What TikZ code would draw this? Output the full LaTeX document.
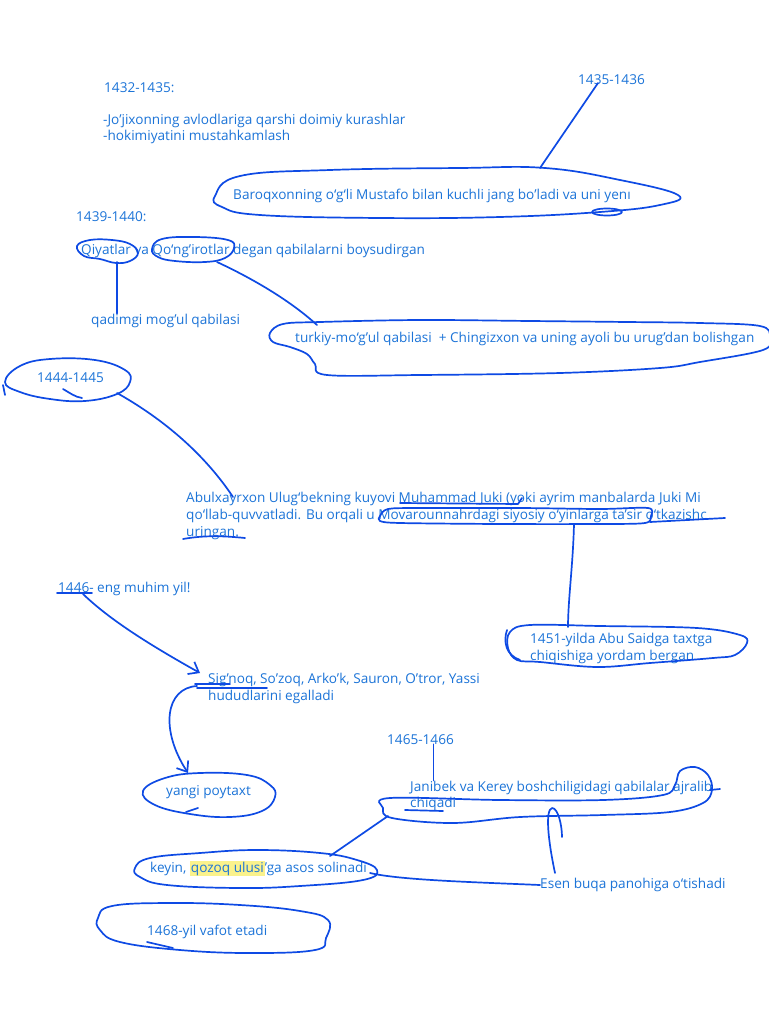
\documentclass[tikz,border=0pt]{standalone}
\usepackage{fontspec}
\setmainfont{Open Sans}
\usetikzlibrary{positioning,arrows.meta}
\definecolor{txtblue}{RGB}{28,116,216}
\definecolor{inkblue}{RGB}{14,74,228}
\definecolor{hlyellow}{RGB}{250,242,140}
\newcommand{\hlt}[1]{{\setlength{\fboxsep}{1pt}\colorbox{hlyellow}{#1}}}
\tikzset{
	txt/.style={anchor=base west, inner sep=0pt, text=txtblue, align=left, font=\fontsize{13.6}{16}\selectfont},
	wide/.style={font=\fontsize{13.6}{17}\selectfont},
	ink/.style={draw=inkblue, line width=1.7pt, line cap=round, line join=round},
	barb/.style={ink, -{Straight Barb[length=9pt,width=14pt]}},
}

\begin{document}
\begin{tikzpicture}[x=1pt,y=-1pt]
	\useasboundingbox (0,0) rectangle (768,1024);
	\fill[white] (0,0) rectangle (768,1024);

	% base of a two or three line node is its last line
	\node[txt] (t1432) at (104,93) {1432-1435:};
	\node[txt] (tjoji) at (103,141) {-Jo'jixonning avlodlariga qarshi doimiy kurashlar\\-hokimiyatini mustahkamlash};
	\node[txt] (t1435) at (578,85) {1435-1436};
	\node[txt] (tbaroq) at (233,200) {Baroqxonning o`g`li Mustafo bilan kuchli jang bo'ladi va uni yenı};
	\node[txt] (t1439) at (76,222) {1439-1440:};
	\node[txt] (tqiyat) at (81,254) {Qiyatlar va Qo`ng'irotlar degan qabilalarni boysudirgan};
	\node[txt] (tqadim) at (91,324) {qadimgi mog'ul qabilasi};
	\node[txt] (tturk) at (295,342) {turkiy-mo`g'ul qabilasi \ + Chingizxon va uning ayoli bu urug'dan bolishgan};
	\node[txt] (t1444) at (37,382) {1444-1445};
	\node[txt, wide] (tabul) at (186,536) {Abulxayrxon Ulug`bekning kuyovi Muhammad Juki (yoki ayrim manbalarda Juki Mi\\qo`llab-quvvatladi. Bu orqali u Movarounnahrdagi siyosiy o`yinlarga ta'sir o`tkazishc\\uringan.};
	\node[txt] (t1446) at (58,592) {1446- eng muhim yil!};
	\node[txt, wide] (tsig) at (208,700) {Sig'noq, So'zoq, Arko'k, Sauron, O'tror, Yassi\\hududlarini egalladi};
	\node[txt, wide] (t1451) at (530,660) {1451-yilda Abu Saidga taxtga\\chiqishiga yordam bergan};
	\node[txt] (tyangi) at (166,795) {yangi poytaxt};
	\node[txt] (t1465) at (387,744) {1465-1466};
	\node[txt] (tjanib) at (410,807) {Janibek va Kerey boshchiligidagi qabilalar ajralib\\chiqadi};
	\node[txt] (tesen) at (540,888) {Esen buqa panohiga o`tishadi};
	\node[txt] (tkeyin) at (150,872) {keyin, \hlt{qozoq ulusi}'ga asos solinadi};
	\node[txt] (t1468) at (147,935) {1468-yil vafot etadi};

	\coordinate (baroqtop) at (540,168);
	\coordinate (qiyatbot) at (117,262);
	\coordinate (qongbot) at (217,262);
	\coordinate (turktop) at (317,325);
	\coordinate (c1444) at (117,393);
	\coordinate (movbot) at (574,524);
	\coordinate (sumtop) at (568,627);
	\coordinate (sigline) at (197,686);
	\coordinate (yangitop) at (188,773);
	\coordinate (janibbot) at (552,808);
	\coordinate (janibleft) at (388,816);
	\coordinate (keyintop) at (330,856);
	\coordinate (keyinright) at (370,873);

	\draw[ink] plot[smooth cycle, tension=.7] coordinates {(215,196) (240,176) (330,170) (460,168) (545,168) (620,180) (678,195) (660,205) (600,212) (500,217) (380,218) (260,215) (222,207)};
	\draw[ink] (607,212) ellipse (15 and 3.5);
	\draw[ink] plot[smooth cycle, tension=.7] coordinates {(77,246) (90,240) (112,240) (130,244) (138,253) (130,261) (116,263) (100,259) (84,256)};
	\draw[ink] plot[smooth cycle, tension=.7] coordinates {(152,249) (162,239) (195,237) (228,240) (234,248) (225,258) (205,262) (175,261) (158,257)};
	\draw[ink] plot[smooth cycle, tension=.6] coordinates {(270,333) (283,324) (320,322) (420,320) (530,321) (627,322) (700,323) (760,326) (770,337) (763,350) (700,362) (660,368) (560,373) (420,375) (327,375) (315,364) (307,354) (290,347) (273,342)};
	\draw[ink] plot[smooth cycle, tension=.7] coordinates {(5,382) (20,366) (50,359) (95,360) (125,370) (130,382) (117,394) (85,401) (50,399) (20,392)};
	\draw[ink] (3,385) -- (5,395);
	\draw[ink] (63,389) .. controls (70,393) and (75,397) .. (82,398);
	\draw[ink] (400,503) -- (518,504) -- (522,498);
	\draw[ink] plot[smooth cycle, tension=.5] coordinates {(380,516) (388,509) (420,508) (520,508) (600,509) (648,508) (651,516) (645,523) (600,524) (500,524) (400,523) (380,521)};
	\draw[ink] (650,522) -- (725,518);
	\draw[ink] (183,539) .. controls (205,535) and (225,536) .. (245,538);
	\draw[ink] plot[smooth cycle, tension=.6] coordinates {(510,632) (530,625) (600,626) (697,628) (740,635) (747,643) (735,655) (713,658) (650,663) (597,667) (540,662) (517,660) (508,648)};
	\draw[ink] (507,630) .. controls (503,642) and (506,655) .. (520,660);
	\draw[ink] (57,593) -- (92,593);
	\draw[ink] (195,684) -- (230,684);
	\draw[ink] (197,688) -- (267,688);
	\draw[ink] plot[smooth cycle, tension=.7] coordinates {(143,791) (165,778) (200,773) (247,775) (270,785) (275,797) (262,811) (230,817) (190,814) (155,805)};
	\draw[ink] (186,812) -- (198,808);
	\draw[ink] plot[smooth cycle, tension=.6] coordinates {(390,798) (383,808) (392,818) (453,823) (520,817) (603,815) (670,812) (703,803) (712,790) (708,775) (695,767) (680,771) (675,785) (663,795) (603,800) (500,800)};
	\draw[ink] (710,790) -- (720,789);
	\draw[ink] (405,810) -- (443,811);
	\draw[ink] plot[smooth cycle, tension=.7] coordinates {(135,868) (150,858) (200,853) (257,850) (320,853) (357,860) (377,870) (363,880) (300,886) (240,888) (167,885) (140,877)};
	\draw[ink] plot[smooth cycle, tension=.7] coordinates {(98,918) (112,906) (170,903) (240,905) (300,911) (328,920) (326,938) (315,950) (250,953) (180,950) (120,942) (100,930)};
	\draw[ink] (147,942) -- (173,948);

	\draw[ink] ([xshift=20pt,yshift=2pt]t1435.base west) -- (baroqtop);
	\draw[ink] (qiyatbot) -- (qiyatbot |- tqadim.north);
	\draw[ink] (qongbot) .. controls (262,283) and (295,305) .. (turktop);
	\draw[ink] (c1444) .. controls (165,420) and (205,455) .. (233,497);
	\draw[ink] (movbot) .. controls (573,565) and (568,600) .. (sumtop);
	\draw[barb] ([xshift=25pt,yshift=-2pt]t1446.base west) .. controls (110,620) and (150,645) .. (200,673);
	\draw[barb] (sigline) .. controls (165,688) and (160,730) .. (yangitop);
	\draw[ink] ([xshift=13pt]t1465.south) -- ([xshift=13pt]t1465.south |- tjanib.north);
	\draw[ink] ([xshift=15pt,yshift=15pt]tesen.base west) .. controls (548,840) and (545,810) .. (janibbot) .. controls (558,808) and (562,825) .. (562,837);
	\draw[ink] ([yshift=3pt]tesen.base west) .. controls (470,882) and (400,880) .. (keyinright);
	\draw[ink] (janibleft) -- (keyintop);
\end{tikzpicture}
\end{document}
